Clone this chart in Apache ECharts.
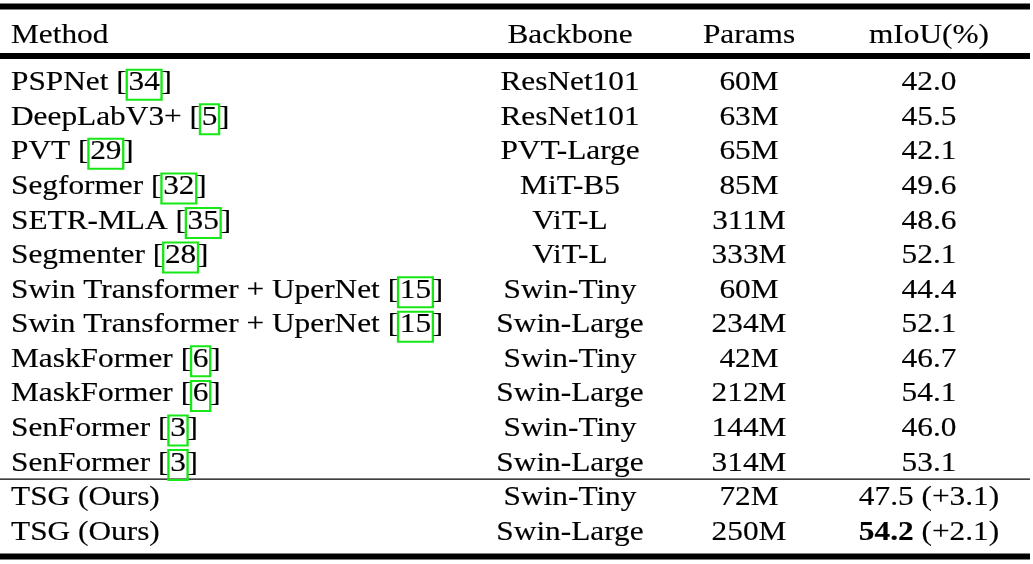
<!DOCTYPE html>
<html><head><meta charset="utf-8">
<script src="https://cdn.jsdelivr.net/npm/echarts@6/dist/echarts.min.js"></script>
<style>html,body{margin:0;padding:0;background:#fff}#c{width:1033px;height:564px}</style>
</head><body><div id="c"></div>
<script>
// ---- data ----
const headers = ['Method', 'Backbone', 'Params', 'mIoU(%)'];
const methods = ['PSPNet', 'DeepLabV3+', 'PVT', 'Segformer', 'SETR-MLA', 'Segmenter',
  'Swin Transformer + UperNet', 'Swin Transformer + UperNet', 'MaskFormer', 'MaskFormer',
  'SenFormer', 'SenFormer', 'TSG (Ours)', 'TSG (Ours)'];
const refs = ['34', '5', '29', '32', '35', '28', '15', '15', '6', '6', '3', '3', '', ''];
const backbones = ['ResNet101', 'ResNet101', 'PVT-Large', 'MiT-B5', 'ViT-L', 'ViT-L',
  'Swin-Tiny', 'Swin-Large', 'Swin-Tiny', 'Swin-Large', 'Swin-Tiny', 'Swin-Large',
  'Swin-Tiny', 'Swin-Large'];
const paramsM = [60, 63, 65, 85, 311, 333, 60, 234, 42, 212, 144, 314, 72, 250];
const miou = [42.0, 45.5, 42.1, 49.6, 48.6, 52.1, 44.4, 52.1, 46.7, 54.1, 46.0, 53.1, 47.5, 54.2];
const gains = [null, null, null, null, null, null, null, null, null, null, null, null, 3.1, 2.1];

// ---- layout / style ----
const FAMILY = '"Liberation Serif", "DejaVu Serif", serif';
const FS = 27;
const SX = 1.16;
const COLS = [11, 570, 749, 929];
const ALIGN = ['left', 'center', 'center', 'center'];
const HEADER_Y = 31.7;
const SHIFT = 4.5;
const PAD = [0, 0, 3, 0];
const YOFF = (PAD[2] - PAD[0]) / 2 + SHIFT;
const best = Math.max(...miou);

const base = { fontFamily: FAMILY, fontSize: FS, fill: '#000', padding: PAD };
const RICH = {
  t: Object.assign({}, base),
  c: Object.assign({}, base, { borderColor: '#16e816', borderWidth: 2, padding: [PAD[0], 1.5, PAD[2], 1.5] }),
  b: Object.assign({}, base, { fontWeight: 'bold' })
};

const T = s => '{t|' + s + '}';
function methodText(i) {
  return refs[i] ? T(methods[i] + ' [') + '{c|' + refs[i] + '}' + T(']') : T(methods[i]);
}
function miouText(i) {
  const v = miou[i].toFixed(1);
  let s = miou[i] === best ? '{b|' + v + '}' : T(v);
  if (gains[i] != null) s += T(' (+' + gains[i].toFixed(1) + ')');
  return s;
}

function txt(x, y, text, align) {
  return {
    type: 'text', x: x, y: y + YOFF, scaleX: SX,
    style: {
      text: text, rich: RICH, fill: '#000',
      font: FS + 'px ' + FAMILY,
      fontFamily: FAMILY, fontSize: FS,
      stroke: '#000', lineWidth: 0.15,
      align: align, textAlign: align,
      verticalAlign: 'middle', textVerticalAlign: 'middle'
    }
  };
}

function renderItem(params, api) {
  const i = api.value(1);
  const texts = [methodText(i), T(backbones[i]), T(paramsM[i] + 'M'), miouText(i)];
  const children = [];
  for (let c = 0; c < 4; c++) {
    const p = api.coord([COLS[c], i]);
    children.push(txt(p[0], p[1], texts[c], ALIGN[c]));
  }
  return { type: 'group', children: children };
}

const chart = echarts.init(document.getElementById('c'), null, { renderer: 'canvas' });
const rowKeys = methods.map((m, i) => String(i));

chart.setOption({
  backgroundColor: '#fff',
  animation: false,
  grid: { left: 0, right: 0, top: 61.4, bottom: 18.5 },
  xAxis: { type: 'value', min: 0, max: 1033, show: false },
  yAxis: { type: 'category', data: rowKeys, inverse: true, show: false },
  series: [{
    type: 'custom',
    renderItem: renderItem,
    data: methods.map((m, i) => [0, i]),
    encode: { x: 0, y: 1 },
    silent: true
  }]
});

const headerEls = headers.map((h, c) => {
  const x = chart.convertToPixel({ xAxisIndex: 0 }, COLS[c]);
  return txt(x, HEADER_Y, T(h), ALIGN[c]);
});
const rule = (y, h) => ({ type: 'rect', shape: { x: 0, y: y, width: 1030, height: h }, style: { fill: '#000' } });
chart.setOption({
  graphic: { elements: headerEls.concat([rule(3.5, 6), rule(53, 6), rule(478.4, 1.4), rule(553.5, 6)]) }
});
</script>
</body></html>
